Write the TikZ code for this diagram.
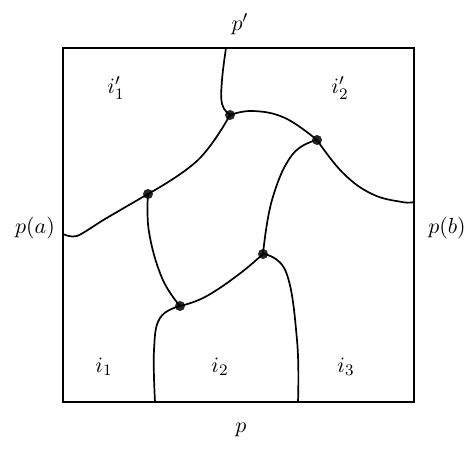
\documentclass[tikz,border=0pt]{standalone}
\begin{document}
\begin{tikzpicture}[x=0.5pt,y=-0.5pt,
  curve/.style={line width=0.85pt,line join=round},
  frame/.style={line width=0.9pt},
  junction/.style={circle,fill=black!85,inner sep=0pt,minimum size=5pt},
  lab/.style={inner sep=0pt,font=\fontsize{11}{13}\selectfont}]
\useasboundingbox (0,0) rectangle (474,453);
% frame
\coordinate (TL) at (63,48);
\coordinate (BR) at (414,402);
\draw[frame] (TL) rectangle (BR);
% boundary end points
\coordinate (top) at (226,48);
\coordinate (left) at (63,234);
\coordinate (right) at (414,202);
\coordinate (bot1) at (155,402);
\coordinate (bot2) at (298,402);
% junctions
\node[junction] (A) at (230,115) {};
\node[junction] (B) at (317,140) {};
\node[junction] (C) at (148,194) {};
\node[junction] (D) at (263,254) {};
\node[junction] (E) at (180,306) {};
% curves
\draw[curve] plot[smooth,tension=0.7] coordinates {(top) (222,80) (222,104) (A.center)};
\draw[curve] plot[smooth,tension=0.7] coordinates {(A.center) (253,111) (285,118) (B.center)};
\draw[curve] plot[smooth,tension=0.7] coordinates {(B.center) (343,173) (372,194) (402,202) (right)};
\draw[curve] plot[smooth,tension=0.7] coordinates {(A.center) (198,160) (C.center)};
\draw[curve] plot[smooth,tension=0.5] coordinates {(C.center) (105,219) (77,236) (left)};
\draw[curve] plot[smooth,tension=0.7] coordinates {(C.center) (149,232) (162,278) (E.center)};
\draw[curve] plot[smooth,tension=0.7] coordinates {(E.center) (160,318) (154,350) (bot1)};
\draw[curve] plot[smooth,tension=0.7] coordinates {(E.center) (205,297) (238,275) (D.center)};
\draw[curve] plot[smooth,tension=0.7] coordinates {(D.center) (272,200) (292,155) (B.center)};
\draw[curve] plot[smooth,tension=0.7] coordinates {(D.center) (286,272) (297,340) (bot2)};
% labels
\node[lab] (lp') at (240,24) {$p'$};
\node[lab] (lp) at (241,430) {$p$};
\node[lab] (lpa) at (35,228) {$p(a)$};
\node[lab] (lpb) at (447,228) {$p(b)$};
\node[lab] (li1') at (116,88) {$i'_1$};
\node[lab] (li2') at (340,88) {$i'_2$};
\node[lab] (li1) at (104,367) {$i_1$};
\node[lab] (li2) at (220,367) {$i_2$};
\node[lab] (li3) at (346,367) {$i_3$};
\end{tikzpicture}
\end{document}
